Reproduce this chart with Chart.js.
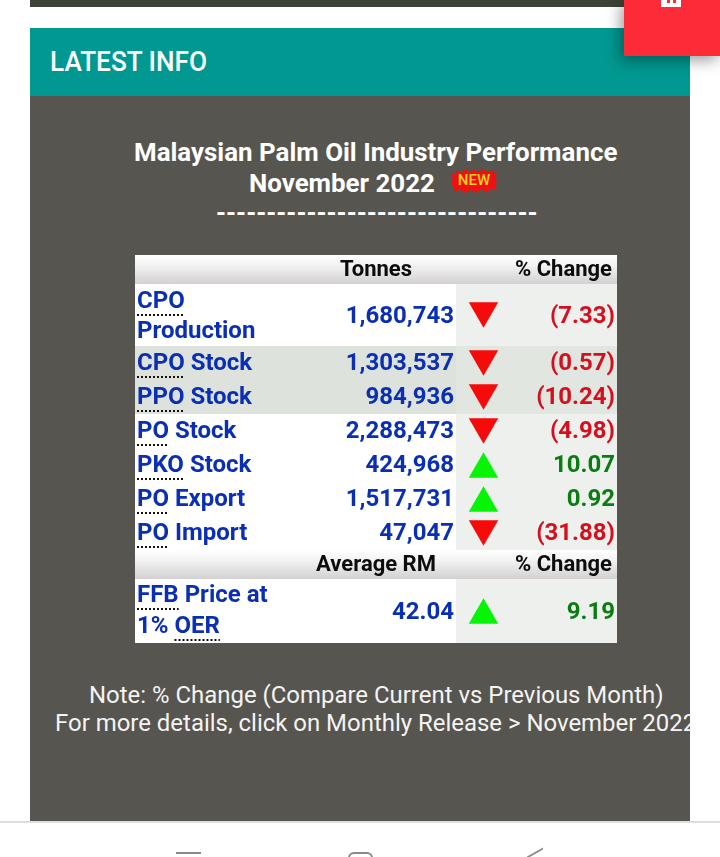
<!DOCTYPE html>
<html>
<head>
<meta charset="utf-8">
<script src="https://cdn.jsdelivr.net/npm/chart.js@4"></script>
<style>
  html, body { margin: 0; padding: 0; background: #fff; }
  #page { position: relative; width: 720px; height: 857px; overflow: hidden; font-family: Roboto, sans-serif; background: #fff; }
  #page > div, #page > canvas { position: absolute; }
  .topBar { left: 30px; top: 0; width: 660px; height: 7px; background: #3d4238; }
  .head { left: 30px; top: 28px; width: 660px; height: 68px; background: #009891; }
  .headText { left: 50px; top: 46px; color: #fff; font-size: 27px; font-weight: 500; line-height: 32px; white-space: nowrap; transform-origin: left; transform: scaleX(0.97); }
  .panel { left: 30px; top: 96px; width: 660px; height: 725px; background: #575550; overflow: hidden; }
  .redBox { left: 624px; top: 0; width: 96px; height: 56px; background: #fd2b37; box-shadow: -3px 4px 14px rgba(0,0,0,0.4); }
  .redIcon { left: 661px; top: 0; width: 20px; height: 7px; background: #fff; }
  .redIcon:after { content: ""; position: absolute; left: 6px; top: 0; width: 3px; height: 3px; background: #fd2b37; box-shadow: 6px 0 #fd2b37; }
  .title { color: #fff; font-size: 25.9px; font-weight: 700; white-space: nowrap; line-height: 31px; }
  .dash { color: #fff; font-size: 25.5px; font-weight: 700; white-space: nowrap; }
  .note { color: #f4f4f2; font-size: 23.95px; line-height: 28px; white-space: nowrap; }
  .badge { left: 451px; top: 169px; width: 46px; height: 24px; background: #f01010; color: #ffd21a; font-size: 15px; font-weight: 500; line-height: 23px; text-align: center;
    clip-path: polygon(0 15%, 7% 24%, 12% 8%, 22% 16%, 30% 0, 40% 12%, 50% 2%, 60% 12%, 70% 0, 80% 14%, 90% 4%, 94% 20%, 100% 12%, 96% 38%, 100% 52%, 96% 68%, 100% 90%, 88% 80%, 78% 98%, 66% 84%, 54% 100%, 42% 86%, 30% 100%, 20% 84%, 8% 96%, 6% 72%, 0 62%, 4% 42%); }
  .navLine { left: 0; top: 821px; width: 720px; height: 2px; background: #dedede; }
  .navA { left: 176px; top: 852px; width: 25px; height: 2px; background: #8a8a8a; }
  .navB { left: 348px; top: 852px; width: 21px; height: 10px; border: 2px solid #8a8a8a; border-radius: 6px; }
  .navC { left: 527px; top: 852px; width: 16px; height: 10px; border-top: 2px solid #8a8a8a; transform: skewY(-30deg); }
</style>
</head>
<body>
<div id="page">
  <div class="topBar"></div>
  <div class="head"></div>
  <div class="headText">LATEST INFO</div>
  <div class="navLine"></div>
  <div class="panel"></div>
  <div class="redBox"></div>
  <div class="redIcon"></div>
  <div class="title" style="left:134px;top:137px">Malaysian Palm Oil Industry Performance</div>
  <div class="title" style="left:249px;top:168px">November 2022</div>
  <div class="badge">NEW</div>
  <div class="dash" style="left:216px;top:198px" id="dashes"></div>
  <canvas id="tableChart" width="482" height="388" style="left:135px;top:255px;width:482px;height:388px"></canvas>
  <div class="note" style="left:89px;top:681px">Note: % Change (Compare Current vs Previous Month)</div>
  <div style="left:30px;top:700px;width:662px;height:50px;overflow:hidden">
    <div class="note" style="position:absolute;left:25px;top:9px">For more details, click on Monthly Release &gt; November 2022</div>
  </div>
  <div class="navA"></div>
  <div class="navB"></div>
  <div class="navC"></div>
</div>

<script>
const categories = [
  ["CPO", "Production"],
  ["CPO Stock"],
  ["PPO Stock"],
  ["PO Stock"],
  ["PKO Stock"],
  ["PO Export"],
  ["PO Import"]
];
const abbreviations = ["CPO", "CPO", "PPO", "PO", "PKO", "PO", "PO"];
const tonnes = [1680743, 1303537, 984936, 2288473, 424968, 1517731, 47047];
const pctChange = [-7.33, -0.57, -10.24, -4.98, 10.07, 0.92, -31.88];

const priceCategory = ["FFB Price at", "1% OER"];
const priceAbbreviations = ["FFB", "OER"];
const priceAverage = [42.04];
const priceChange = [9.19];

const headerTonnes = "Tonnes";
const headerAverage = "Average RM";
const headerChange = "% Change";

// layout of the table, in canvas pixels
const tableWidth = 482;
const headerHeight = 29;
const rowHeights = [62, 34, 34, 34, 34, 34, 34];
const priceRowHeight = 64;
const shadedRows = [1, 2];
const valueRight = 319;
const arrowX = 348.5;
const changeRight = 480;
const headerCenter = 241;
const headerRight = 477;
const labelLeft = 2;
const arrowRadius = 17;

const labelFont = "700 24px Roboto";
const valueFont = "700 24px Roboto";
const headerFont = "700 22px Roboto";

document.getElementById("dashes").textContent = "-".repeat(32);

function rowTops() {
  const tops = [];
  let y = headerHeight;
  rowHeights.forEach(h => {
    tops.push(y);
    y += h;
  });
  return tops;
}

const tops = rowTops();
const secondHeaderTop = tops[tops.length - 1] + rowHeights[rowHeights.length - 1];
const priceTop = secondHeaderTop + headerHeight;
const tableHeight = priceTop + priceRowHeight;

// chart.js triangles sit on their circumcentre, so shift to centre them in the row
function arrowY(top, height, change) {
  const mid = top + height / 2;
  return change >= 0 ? mid + arrowRadius / 4 : mid - arrowRadius / 4;
}

const arrowPoints = pctChange.map((c, i) => ({ x: arrowX, y: arrowY(tops[i], rowHeights[i], c) }));
arrowPoints.push({ x: arrowX, y: arrowY(priceTop, priceRowHeight, priceChange[0]) });
const allChanges = pctChange.concat(priceChange);

function changeText(c) {
  return c < 0 ? "(" + Math.abs(c).toFixed(2) + ")" : c.toFixed(2);
}

function dottedUnder(ctx, line, word, x, baseline) {
  const start = line.indexOf(word);
  const before = ctx.measureText(line.slice(0, start)).width;
  const w = ctx.measureText(word).width;
  ctx.save();
  ctx.strokeStyle = "#111";
  ctx.lineWidth = 2;
  ctx.setLineDash([2, 2]);
  ctx.beginPath();
  ctx.moveTo(x + before, baseline + 7);
  ctx.lineTo(x + before + w, baseline + 7);
  ctx.stroke();
  ctx.restore();
}

const tablePlugin = {
  id: "tablePlugin",
  beforeDatasetsDraw(chart) {
    const { ctx, scales } = chart;
    const xs = scales.x, ys = scales.y;
    const px = v => xs.getPixelForValue(v);
    const py = v => ys.getPixelForValue(v);

    ctx.save();
    ctx.fillStyle = "#fff";
    ctx.fillRect(px(0), py(0), tableWidth, tableHeight);

    // lighter column behind arrows and % change
    ctx.fillStyle = "#eef0ee";
    ctx.fillRect(px(valueRight + 2), py(0), tableWidth - valueRight - 2, tableHeight);

    shadedRows.forEach(i => {
      ctx.fillStyle = "#dde3dc";
      ctx.fillRect(px(0), py(tops[i]), valueRight + 2, rowHeights[i]);
      ctx.fillStyle = "#e2e6e1";
      ctx.fillRect(px(valueRight + 2), py(tops[i]), tableWidth - valueRight - 2, rowHeights[i]);
    });

    [0, secondHeaderTop].forEach(top => {
      const g = ctx.createLinearGradient(0, py(top), 0, py(top + headerHeight));
      g.addColorStop(0, "#ffffff");
      g.addColorStop(0.35, "#f4f3f3");
      g.addColorStop(1, "#d2d0d0");
      ctx.fillStyle = g;
      ctx.fillRect(px(0), py(top), tableWidth, headerHeight);
    });

    // header text
    ctx.font = headerFont;
    ctx.fillStyle = "#0c0c0c";
    ctx.textAlign = "center";
    ctx.fillText(headerTonnes, px(headerCenter), py(headerHeight - 8));
    ctx.fillText(headerAverage, px(headerCenter), py(secondHeaderTop + headerHeight - 8));
    ctx.textAlign = "right";
    ctx.fillText(headerChange, px(headerRight), py(headerHeight - 8));
    ctx.fillText(headerChange, px(headerRight), py(secondHeaderTop + headerHeight - 8));

    // indicator rows
    categories.forEach((lines, i) => {
      const mid = tops[i] + rowHeights[i] / 2;
      const valueBase = lines.length === 2 ? mid + 8 : mid + 7;
      ctx.textAlign = "left";
      ctx.font = labelFont;
      ctx.fillStyle = "#0a2fb5";
      const firstBase = lines.length === 2 ? tops[i] + 24 : valueBase;
      lines.forEach((line, k) => {
        ctx.fillText(line, px(labelLeft), py(firstBase + k * 30));
      });
      dottedUnder(ctx, lines[0], abbreviations[i], px(labelLeft), py(firstBase));

      ctx.textAlign = "right";
      ctx.font = valueFont;
      ctx.fillText(tonnes[i].toLocaleString("en-US"), px(valueRight), py(valueBase));
      ctx.fillStyle = pctChange[i] < 0 ? "#d4101f" : "#0a7d10";
      ctx.fillText(changeText(pctChange[i]), px(changeRight), py(valueBase));
    });

    // FFB price row
    const priceMid = priceTop + priceRowHeight / 2;
    ctx.textAlign = "left";
    ctx.font = labelFont;
    ctx.fillStyle = "#0a2fb5";
    priceCategory.forEach((line, k) => {
      const base = priceTop + 23 + k * 31;
      ctx.fillText(line, px(labelLeft), py(base));
      dottedUnder(ctx, line, priceAbbreviations[k], px(labelLeft), py(base));
    });
    ctx.textAlign = "right";
    ctx.font = valueFont;
    ctx.fillText(priceAverage[0].toFixed(2), px(valueRight), py(priceMid + 8));
    ctx.fillStyle = "#0a7d10";
    ctx.fillText(changeText(priceChange[0]), px(changeRight), py(priceMid + 8));
    ctx.restore();
  }
};

new Chart(document.getElementById("tableChart"), {
  type: "scatter",
  data: {
    datasets: [{
      label: "% Change",
      data: arrowPoints,
      pointStyle: "triangle",
      pointRadius: arrowRadius,
      pointHoverRadius: arrowRadius,
      borderWidth: 0,
      pointBorderWidth: 0,
      pointRotation: allChanges.map(c => (c < 0 ? 180 : 0)),
      pointBackgroundColor: allChanges.map(c => (c < 0 ? "#f60a0a" : "#06f506"))
    }]
  },
  options: {
    responsive: false,
    animation: false,
    events: [],
    layout: { padding: 0, autoPadding: false },
    plugins: { legend: { display: false }, tooltip: { enabled: false } },
    scales: {
      x: { type: "linear", display: false, min: 0, max: tableWidth },
      y: { type: "linear", display: false, reverse: true, min: 0, max: tableHeight }
    }
  },
  plugins: [tablePlugin]
});
</script>
</body>
</html>
